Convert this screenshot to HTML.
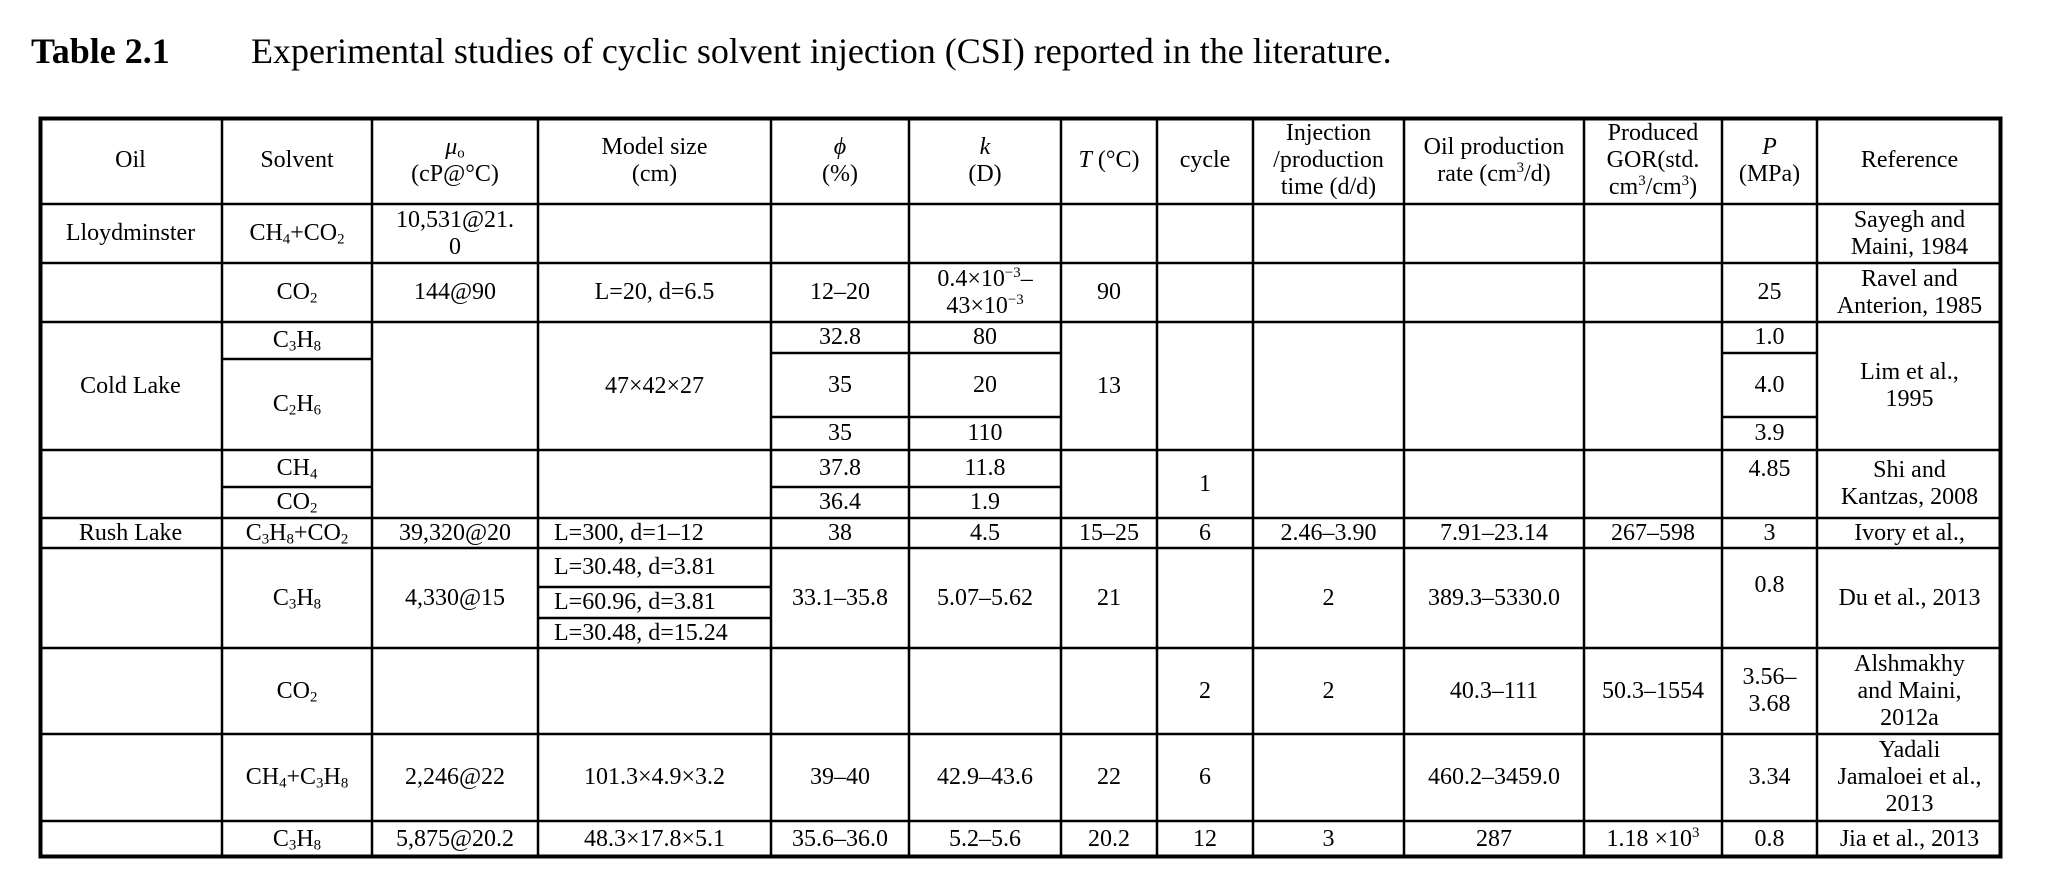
<!DOCTYPE html>
<html><head><meta charset="utf-8"><style>
body{margin:0;width:2048px;height:881px;background:#fff;position:relative;overflow:hidden;font-family:"Liberation Serif",serif;color:#000}
.c{position:absolute;display:flex;align-items:center;justify-content:center;text-align:center;font-size:24px;line-height:27px}
.c>span{display:block}
sub{font-size:0.62em;vertical-align:-0.25em;line-height:0}
sup{font-size:0.62em;vertical-align:0.6em;line-height:0}
#t{position:absolute;top:30px;left:31px;font-size:36px;white-space:nowrap}
.l{justify-content:flex-start;padding-left:16px;box-sizing:border-box}
</style></head><body>
<div id="t"><b>Table 2.1</b><span style="position:absolute;left:220px;top:0">Experimental studies of cyclic solvent injection (CSI) reported in the literature.</span></div>
<svg width="2048" height="881" style="position:absolute;left:0;top:0">
<g stroke="#000" stroke-width="2.5">
<line x1="39" y1="204" x2="2002" y2="204"/>
<line x1="39" y1="263" x2="2002" y2="263"/>
<line x1="39" y1="322" x2="2002" y2="322"/>
<line x1="39" y1="450" x2="2002" y2="450"/>
<line x1="39" y1="518" x2="2002" y2="518"/>
<line x1="39" y1="548" x2="2002" y2="548"/>
<line x1="39" y1="648" x2="2002" y2="648"/>
<line x1="39" y1="734" x2="2002" y2="734"/>
<line x1="39" y1="821" x2="2002" y2="821"/>
<line x1="222" y1="359" x2="372" y2="359"/>
<line x1="771" y1="353" x2="1061" y2="353"/>
<line x1="771" y1="417" x2="1061" y2="417"/>
<line x1="1722" y1="353" x2="1817" y2="353"/>
<line x1="1722" y1="417" x2="1817" y2="417"/>
<line x1="222" y1="487" x2="372" y2="487"/>
<line x1="771" y1="487" x2="1061" y2="487"/>
<line x1="538" y1="587" x2="771" y2="587"/>
<line x1="538" y1="618" x2="771" y2="618"/>
<line x1="222" y1="117" x2="222" y2="858"/>
<line x1="372" y1="117" x2="372" y2="858"/>
<line x1="538" y1="117" x2="538" y2="858"/>
<line x1="771" y1="117" x2="771" y2="858"/>
<line x1="909" y1="117" x2="909" y2="858"/>
<line x1="1061" y1="117" x2="1061" y2="858"/>
<line x1="1157" y1="117" x2="1157" y2="858"/>
<line x1="1253" y1="117" x2="1253" y2="858"/>
<line x1="1404" y1="117" x2="1404" y2="858"/>
<line x1="1584" y1="117" x2="1584" y2="858"/>
<line x1="1722" y1="117" x2="1722" y2="858"/>
<line x1="1817" y1="117" x2="1817" y2="858"/>
</g>
<rect x="40.5" y="118.5" width="1960" height="738" fill="none" stroke="#000" stroke-width="4"/>
</svg>
<div class="c" style="left:39px;top:117px;width:183px;height:87px"><span>Oil</span></div>
<div class="c" style="left:222px;top:117px;width:150px;height:87px"><span>Solvent</span></div>
<div class="c" style="left:372px;top:117px;width:166px;height:87px"><span><i>μ</i><sub>o</sub><br>(cP@°C)</span></div>
<div class="c" style="left:538px;top:117px;width:233px;height:87px"><span>Model size<br>(cm)</span></div>
<div class="c" style="left:771px;top:117px;width:138px;height:87px"><span><i>ϕ</i><br>(%)</span></div>
<div class="c" style="left:909px;top:117px;width:152px;height:87px"><span><i>k</i><br>(D)</span></div>
<div class="c" style="left:1061px;top:117px;width:96px;height:87px"><span><i>T</i> (°C)</span></div>
<div class="c" style="left:1157px;top:117px;width:96px;height:87px"><span>cycle</span></div>
<div class="c" style="left:1253px;top:117px;width:151px;height:87px"><span>Injection<br>/production<br>time (d/d)</span></div>
<div class="c" style="left:1404px;top:117px;width:180px;height:87px"><span>Oil production<br>rate (cm<sup>3</sup>/d)</span></div>
<div class="c" style="left:1584px;top:117px;width:138px;height:87px"><span>Produced<br>GOR(std.<br>cm<sup>3</sup>/cm<sup>3</sup>)</span></div>
<div class="c" style="left:1722px;top:117px;width:95px;height:87px"><span><i>P</i><br>(MPa)</span></div>
<div class="c" style="left:1817px;top:117px;width:185px;height:87px"><span>Reference</span></div>
<div class="c" style="left:39px;top:204px;width:183px;height:59px"><span>Lloydminster</span></div>
<div class="c" style="left:222px;top:204px;width:150px;height:59px"><span>CH<sub>4</sub>+CO<sub>2</sub></span></div>
<div class="c" style="left:372px;top:204px;width:166px;height:59px"><span>10,531@21.<br>0</span></div>
<div class="c" style="left:1817px;top:204px;width:185px;height:59px"><span>Sayegh and<br>Maini, 1984</span></div>
<div class="c" style="left:222px;top:263px;width:150px;height:59px"><span>CO<sub>2</sub></span></div>
<div class="c" style="left:372px;top:263px;width:166px;height:59px"><span>144@90</span></div>
<div class="c" style="left:538px;top:263px;width:233px;height:59px"><span>L=20, d=6.5</span></div>
<div class="c" style="left:771px;top:263px;width:138px;height:59px"><span>12–20</span></div>
<div class="c" style="left:909px;top:263px;width:152px;height:59px"><span>0.4×10<sup>−3</sup>–<br>43×10<sup>−3</sup></span></div>
<div class="c" style="left:1061px;top:263px;width:96px;height:59px"><span>90</span></div>
<div class="c" style="left:1722px;top:263px;width:95px;height:59px"><span>25</span></div>
<div class="c" style="left:1817px;top:263px;width:185px;height:59px"><span>Ravel and<br>Anterion, 1985</span></div>
<div class="c" style="left:39px;top:322px;width:183px;height:128px"><span>Cold Lake</span></div>
<div class="c" style="left:222px;top:322px;width:150px;height:37px"><span>C<sub>3</sub>H<sub>8</sub></span></div>
<div class="c" style="left:222px;top:359px;width:150px;height:91px"><span>C<sub>2</sub>H<sub>6</sub></span></div>
<div class="c" style="left:538px;top:322px;width:233px;height:128px"><span>47×42×27</span></div>
<div class="c" style="left:771px;top:322px;width:138px;height:31px"><span>32.8</span></div>
<div class="c" style="left:771px;top:353px;width:138px;height:64px"><span>35</span></div>
<div class="c" style="left:771px;top:417px;width:138px;height:33px"><span>35</span></div>
<div class="c" style="left:909px;top:322px;width:152px;height:31px"><span>80</span></div>
<div class="c" style="left:909px;top:353px;width:152px;height:64px"><span>20</span></div>
<div class="c" style="left:909px;top:417px;width:152px;height:33px"><span>110</span></div>
<div class="c" style="left:1061px;top:322px;width:96px;height:128px"><span>13</span></div>
<div class="c" style="left:1722px;top:322px;width:95px;height:31px"><span>1.0</span></div>
<div class="c" style="left:1722px;top:353px;width:95px;height:64px"><span>4.0</span></div>
<div class="c" style="left:1722px;top:417px;width:95px;height:33px"><span>3.9</span></div>
<div class="c" style="left:1817px;top:322px;width:185px;height:128px"><span>Lim et al.,<br>1995</span></div>
<div class="c" style="left:222px;top:450px;width:150px;height:37px"><span>CH<sub>4</sub></span></div>
<div class="c" style="left:222px;top:487px;width:150px;height:31px"><span>CO<sub>2</sub></span></div>
<div class="c" style="left:771px;top:450px;width:138px;height:37px"><span>37.8</span></div>
<div class="c" style="left:771px;top:487px;width:138px;height:31px"><span>36.4</span></div>
<div class="c" style="left:909px;top:450px;width:152px;height:37px"><span>11.8</span></div>
<div class="c" style="left:909px;top:487px;width:152px;height:31px"><span>1.9</span></div>
<div class="c" style="left:1157px;top:450px;width:96px;height:68px"><span>1</span></div>
<div class="c" style="left:1722px;top:450px;width:95px;height:38px"><span>4.85</span></div>
<div class="c" style="left:1817px;top:450px;width:185px;height:68px"><span>Shi and<br>Kantzas, 2008</span></div>
<div class="c" style="left:39px;top:518px;width:183px;height:30px"><span>Rush Lake</span></div>
<div class="c" style="left:222px;top:518px;width:150px;height:30px"><span>C<sub>3</sub>H<sub>8</sub>+CO<sub>2</sub></span></div>
<div class="c" style="left:372px;top:518px;width:166px;height:30px"><span>39,320@20</span></div>
<div class="c l" style="left:538px;top:518px;width:233px;height:30px"><span>L=300, d=1–12</span></div>
<div class="c" style="left:771px;top:518px;width:138px;height:30px"><span>38</span></div>
<div class="c" style="left:909px;top:518px;width:152px;height:30px"><span>4.5</span></div>
<div class="c" style="left:1061px;top:518px;width:96px;height:30px"><span>15–25</span></div>
<div class="c" style="left:1157px;top:518px;width:96px;height:30px"><span>6</span></div>
<div class="c" style="left:1253px;top:518px;width:151px;height:30px"><span>2.46–3.90</span></div>
<div class="c" style="left:1404px;top:518px;width:180px;height:30px"><span>7.91–23.14</span></div>
<div class="c" style="left:1584px;top:518px;width:138px;height:30px"><span>267–598</span></div>
<div class="c" style="left:1722px;top:518px;width:95px;height:30px"><span>3</span></div>
<div class="c" style="left:1817px;top:518px;width:185px;height:30px"><span>Ivory et al.,</span></div>
<div class="c" style="left:222px;top:548px;width:150px;height:100px"><span>C<sub>3</sub>H<sub>8</sub></span></div>
<div class="c" style="left:372px;top:548px;width:166px;height:100px"><span>4,330@15</span></div>
<div class="c l" style="left:538px;top:548px;width:233px;height:39px"><span>L=30.48, d=3.81</span></div>
<div class="c l" style="left:538px;top:587px;width:233px;height:31px"><span>L=60.96, d=3.81</span></div>
<div class="c l" style="left:538px;top:618px;width:233px;height:30px"><span>L=30.48, d=15.24</span></div>
<div class="c" style="left:771px;top:548px;width:138px;height:100px"><span>33.1–35.8</span></div>
<div class="c" style="left:909px;top:548px;width:152px;height:100px"><span>5.07–5.62</span></div>
<div class="c" style="left:1061px;top:548px;width:96px;height:100px"><span>21</span></div>
<div class="c" style="left:1253px;top:548px;width:151px;height:100px"><span>2</span></div>
<div class="c" style="left:1404px;top:548px;width:180px;height:100px"><span>389.3–5330.0</span></div>
<div class="c" style="left:1722px;top:570px;width:95px;height:30px"><span>0.8</span></div>
<div class="c" style="left:1817px;top:548px;width:185px;height:100px"><span>Du et al., 2013</span></div>
<div class="c" style="left:222px;top:648px;width:150px;height:86px"><span>CO<sub>2</sub></span></div>
<div class="c" style="left:1157px;top:648px;width:96px;height:86px"><span>2</span></div>
<div class="c" style="left:1253px;top:648px;width:151px;height:86px"><span>2</span></div>
<div class="c" style="left:1404px;top:648px;width:180px;height:86px"><span>40.3–111</span></div>
<div class="c" style="left:1584px;top:648px;width:138px;height:86px"><span>50.3–1554</span></div>
<div class="c" style="left:1722px;top:648px;width:95px;height:86px"><span>3.56–<br>3.68</span></div>
<div class="c" style="left:1817px;top:648px;width:185px;height:86px"><span>Alshmakhy<br>and Maini,<br>2012a</span></div>
<div class="c" style="left:222px;top:734px;width:150px;height:87px"><span>CH<sub>4</sub>+C<sub>3</sub>H<sub>8</sub></span></div>
<div class="c" style="left:372px;top:734px;width:166px;height:87px"><span>2,246@22</span></div>
<div class="c" style="left:538px;top:734px;width:233px;height:87px"><span>101.3×4.9×3.2</span></div>
<div class="c" style="left:771px;top:734px;width:138px;height:87px"><span>39–40</span></div>
<div class="c" style="left:909px;top:734px;width:152px;height:87px"><span>42.9–43.6</span></div>
<div class="c" style="left:1061px;top:734px;width:96px;height:87px"><span>22</span></div>
<div class="c" style="left:1157px;top:734px;width:96px;height:87px"><span>6</span></div>
<div class="c" style="left:1404px;top:734px;width:180px;height:87px"><span>460.2–3459.0</span></div>
<div class="c" style="left:1722px;top:734px;width:95px;height:87px"><span>3.34</span></div>
<div class="c" style="left:1817px;top:734px;width:185px;height:87px"><span>Yadali<br>Jamaloei et al.,<br>2013</span></div>
<div class="c" style="left:222px;top:821px;width:150px;height:37px"><span>C<sub>3</sub>H<sub>8</sub></span></div>
<div class="c" style="left:372px;top:821px;width:166px;height:37px"><span>5,875@20.2</span></div>
<div class="c" style="left:538px;top:821px;width:233px;height:37px"><span>48.3×17.8×5.1</span></div>
<div class="c" style="left:771px;top:821px;width:138px;height:37px"><span>35.6–36.0</span></div>
<div class="c" style="left:909px;top:821px;width:152px;height:37px"><span>5.2–5.6</span></div>
<div class="c" style="left:1061px;top:821px;width:96px;height:37px"><span>20.2</span></div>
<div class="c" style="left:1157px;top:821px;width:96px;height:37px"><span>12</span></div>
<div class="c" style="left:1253px;top:821px;width:151px;height:37px"><span>3</span></div>
<div class="c" style="left:1404px;top:821px;width:180px;height:37px"><span>287</span></div>
<div class="c" style="left:1584px;top:821px;width:138px;height:37px"><span>1.18 ×10<sup>3</sup></span></div>
<div class="c" style="left:1722px;top:821px;width:95px;height:37px"><span>0.8</span></div>
<div class="c" style="left:1817px;top:821px;width:185px;height:37px"><span>Jia et al., 2013</span></div>
</body></html>
